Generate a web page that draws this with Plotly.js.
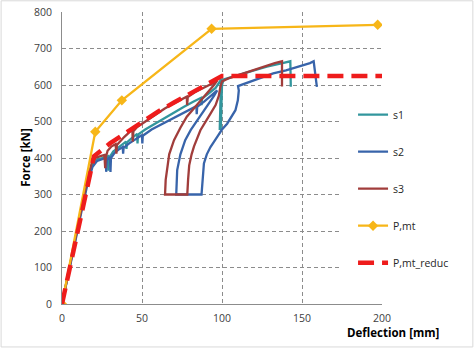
<!DOCTYPE html>
<html>
<head>
<meta charset="utf-8">
<script src="https://cdn.plot.ly/plotly-3.0.1.min.js"></script>
<style>
  html, body { margin: 0; padding: 0; background: #fff; }
  #chart { width: 474px; height: 349px; }
</style>
</head>
<body>
<div id="chart"></div>
<script>
// Specimen s1: load-deflection record
const s1X = [0, 4, 8, 12, 16, 19, 22, 27, 28.8, 29, 29.4, 32, 36, 40, 40.3, 40.6, 44, 47, 47.2, 47.5,
  52, 58, 64, 70, 76, 82, 87, 87.2, 87.5, 92, 96, 99, 99.5, 99.3, 99, 98.6, 99.2, 99.6, 100, 101,
  106, 112, 120, 128, 136, 141, 142.7, 143];
const s1Y = [0, 82, 170, 258, 338, 380, 396, 402, 405, 365, 400, 418, 432, 445, 425, 443, 456, 466, 440, 464,
  478, 494, 510, 525, 540, 554, 565, 545, 563, 578, 592, 612, 618, 600, 540, 480, 480, 540, 600, 615,
  622, 630, 640, 650, 658, 663, 665, 595];

// Specimen s2
const s2X = [0, 4, 8, 12, 16, 19, 22, 26, 27.6, 27.6, 28, 30, 30.3, 30.6, 33, 36, 38, 38.2, 38.5, 42, 46, 50,
  50.2, 50.5, 56, 62, 68, 74, 80, 84, 84.2, 84.5, 89, 93, 97,
  95, 91.8, 88, 84.5, 80.5, 77, 74, 72, 71.5, 71.4,
  87.2, 87.8, 88.7, 90.5, 92.8, 97, 100, 103.2, 106, 108.4, 109.9, 110.5, 110,
  118, 125, 132, 140, 148, 155, 157.3, 159.3];
const s2Y = [0, 80, 165, 250, 330, 375, 392, 398, 400, 362, 395, 402, 362, 400, 415, 425, 430, 412, 428, 440, 452, 463,
  440, 461, 478, 492, 506, 520, 533, 542, 520, 540, 555, 570, 585,
  570, 549, 525, 503, 477, 449, 410, 367, 330, 300,
  300, 340, 385, 410, 430, 458, 478, 494, 512, 531, 558, 585, 597,
  610, 622, 632, 640, 650, 660, 665, 595];

// Specimen s3
const s3X = [0, 4, 8, 12, 16, 18.5, 21, 24, 26.5, 27, 27.3, 28.5, 31, 33.5, 34, 34.3, 36, 39, 42, 44, 44.2, 44.6,
  47, 52, 58, 64, 70, 76, 78, 78.2, 78.6, 83, 88, 92, 95, 97,
  95, 91, 87, 83, 78, 74, 70, 67, 65.5, 64.8, 64.4,
  78.3, 78.8, 79.5, 81, 82.5, 86.5, 90, 93, 96, 98, 99, 100,
  104, 110, 116, 122, 128, 133, 137.5, 137.5];
const s3Y = [0, 85, 175, 265, 345, 385, 400, 405, 408, 372, 400, 420, 432, 438, 412, 436, 445, 458, 470, 477, 445, 473,
  485, 500, 518, 535, 550, 563, 568, 545, 567, 580, 592, 600, 606, 612,
  600, 580, 558, 537, 513, 483, 449, 410, 370, 340, 300,
  300, 340, 380, 410, 432, 476, 500, 523, 545, 570, 595, 610,
  618, 627, 635, 643, 652, 660, 665, 596];

// Model prediction P,mt
const pmtX = [0, 20.8, 37.4, 93.5, 197.3];
const pmtY = [0, 472, 558, 754, 765];

// Reduced model prediction P,mt_reduc
const pmtReducX = [0, 20, 30, 40, 50, 60, 70, 80, 90, 96, 100, 200];
const pmtReducY = [0, 405, 440, 470, 500, 527, 552, 575, 598, 615, 625, 625];

// Axis ticks
const xTicks = [0, 50, 100, 150, 200];
const yTicks = [0, 100, 200, 300, 400, 500, 600, 700, 800];

const FONT = '"Open Sans", "Noto Sans", sans-serif';

function series(name, x, y, color, extra) {
  return Object.assign({
    type: 'scatter', mode: 'lines', name: name, legendgroup: name,
    x: x, y: y,
    line: { color: color, width: 2.3 }
  }, extra || {});
}

const traces = [
  series('s1', s1X, s1Y, '#32969D'),
  series('s2', s2X, s2Y, '#3864AA'),
  series('s3', s3X, s3Y, '#A13D3B'),
  series('P,mt', pmtX, pmtY, '#F7B618', {
    mode: 'lines+markers',
    line: { color: '#F7B618', width: 2.3 },
    marker: { symbol: 'diamond', size: 8, color: '#F7B618' }
  }),
  series('P,mt_reduc', pmtReducX, pmtReducY, '#EE1C1C', {
    line: { color: '#EE1C1C', width: 4.5, dash: '16px,8px' }
  })
];

const W = 474, H = 349;
const L = 61.5, R = 92, T = 11.7, B = 45;
const pw = W - L - R, ph = H - T - B;
const px = v => (v - L) / pw;          // pixel -> paper x
const py = v => (H - B - v) / ph;      // pixel -> paper y
const dx = v => (v - L) / pw * 200;    // pixel -> deflection
const dy = v => (H - B - v) / ph * 800; // pixel -> force

const axisCommon = {
  showgrid: true,
  gridcolor: '#8C8C8C',
  griddash: '4px,3px',
  gridwidth: 1,
  zeroline: false,
  showline: true,
  linecolor: '#8C8C8C',
  linewidth: 1,
  ticks: '',
  tickfont: { family: FONT, size: 10.5, color: '#404040' },
  fixedrange: true
};

const layout = {
  width: W, height: H,
  margin: { l: L, r: R, t: T, b: B, pad: 0 },
  paper_bgcolor: '#ffffff',
  plot_bgcolor: '#ffffff',
  showlegend: true,
  xaxis: Object.assign({}, axisCommon, {
    range: [0, 200], tickvals: xTicks, ticktext: xTicks.map(String),
    ticklabelstandoff: 4
  }),
  yaxis: Object.assign({}, axisCommon, {
    range: [0, 800], tickvals: yTicks, ticktext: yTicks.map(String),
    ticklabelstandoff: 7
  }),
  legend: {
    x: px(353), y: py(100), xanchor: 'left', yanchor: 'top',
    bgcolor: 'rgba(255,255,255,0)',
    borderwidth: 0,
    traceorder: 'grouped',
    tracegroupgap: 18,
    itemwidth: 30,
    font: { family: FONT, size: 10.5, color: '#262626' }
  },
  shapes: [
    // white panel behind the legend, hiding the grid there
    { type: 'rect', xref: 'x', yref: 'y', layer: 'between',
      x0: dx(340), x1: 205, y0: dy(282), y1: dy(100),
      fillcolor: '#ffffff', line: { width: 0 } },
    // thin outer frame of the figure
    { type: 'rect', xref: 'paper', yref: 'paper', layer: 'above',
      x0: px(0.5), x1: px(473), y0: py(347), y1: py(0.5),
      fillcolor: 'rgba(0,0,0,0)', line: { color: '#D9D9D9', width: 1 } }
  ],
  annotations: [
    { text: '<b>Deflection [mm]</b>', xref: 'paper', yref: 'paper',
      x: px(441), y: py(333), xanchor: 'right', yanchor: 'middle', showarrow: false,
      font: { family: FONT, size: 11.5, color: '#000000' } },
    { text: '<b>Force [kN]</b>', xref: 'paper', yref: 'paper', textangle: -90,
      x: px(25), y: py(158), xanchor: 'center', yanchor: 'middle', showarrow: false,
      font: { family: FONT, size: 11.5, color: '#000000' } }
  ]
};

Plotly.newPlot('chart', traces, layout, { staticPlot: true, displayModeBar: false });
</script>
</body>
</html>
